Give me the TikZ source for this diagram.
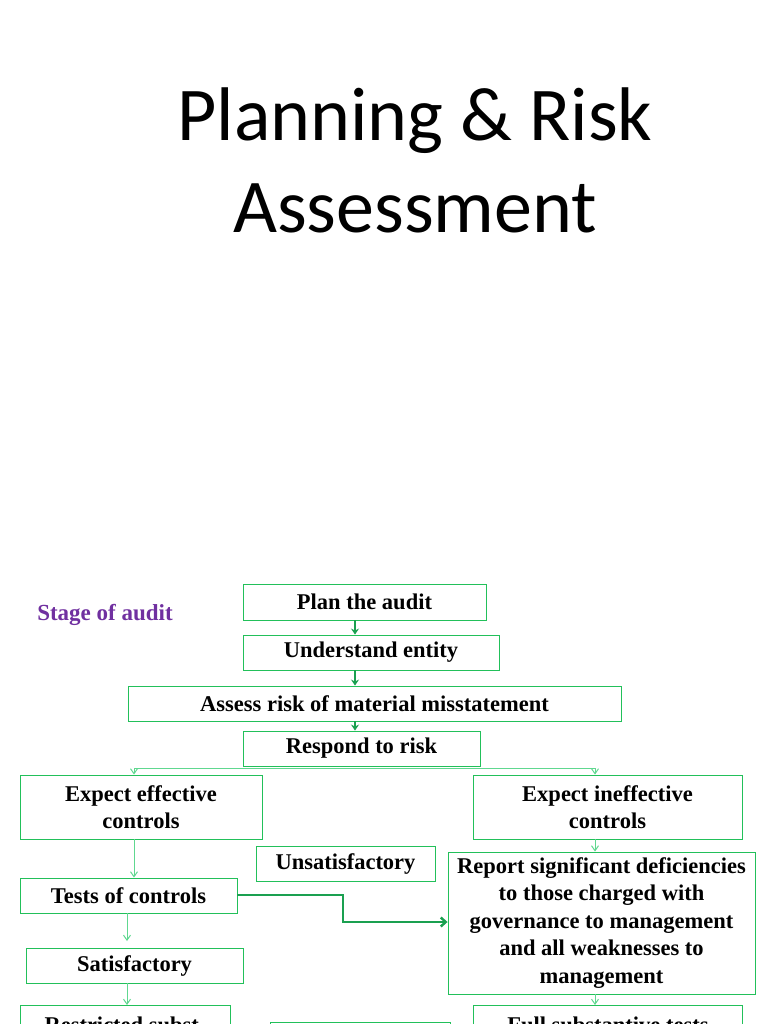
\documentclass[tikz,border=0pt]{standalone}
\usepackage{fontspec}
\setmainfont{Liberation Serif}
\newfontfamily\titlefont{Carlito}
\usetikzlibrary{arrows.meta}
\definecolor{bx}{HTML}{22C05A}
\definecolor{dk}{HTML}{1AA050}
\definecolor{lt}{HTML}{60D890}
\definecolor{purp}{HTML}{7030A0}
\begin{document}
\begin{tikzpicture}[x=1pt,y=-1pt,
  bx/.style={draw=bx,line width=0.9pt,inner sep=0pt,font=\bfseries\fontsize{22.5}{27.5}\selectfont,align=center},
  thick arr/.style={draw=dk,line width=2.6pt,-{Stealth[length=6pt,width=8pt]}},
  thin arr/.style={draw=lt,line width=1pt,-{Straight Barb[length=5pt,width=7pt]}}]
\clip (0,0) rectangle (768,1024);
\fill[white] (0,0) rectangle (768,1024);
\node[font=\titlefont\fontsize{76}{92}\selectfont,align=center] (title) at (415,160) {Planning \& Risk\\Assessment};
\node[text=purp,font=\bfseries\fontsize{23}{26}\selectfont] (stage) at (105,615) {Stage of audit};
\newcommand\bxn[6]{\node[bx,minimum width=#3-#2,minimum height=#5-#4] (#1) at ({(#2+#3)/2},{(#4+#5)/2+1}) {#6};}
\bxn{plan}{243}{486}{583}{619}{Plan the audit}
\bxn{und}{243}{499}{634}{669}{Understand entity}
\bxn{ass}{128}{621}{685}{720}{Assess risk of material misstatement}
\bxn{resp}{243}{480}{730}{765}{Respond to risk}
\bxn{eff}{20}{262}{774}{838}{Expect effective\\controls}
\bxn{ineff}{473}{742}{774}{838}{Expect ineffective\\controls}
\bxn{unsat}{256}{435}{845}{880}{Unsatisfactory}
\bxn{tests}{20}{237}{877}{912}{Tests of controls}
\bxn{satis}{26}{243}{947}{982}{Satisfactory}
\bxn{rep}{448}{755}{851}{993}{Report significant deficiencies\\to those charged with\\governance to management\\and all weaknesses to\\management}
\node[bx,minimum width=210,minimum height=60,anchor=north west] (restr) at (20,1005) {\raisebox{-6pt}{Restricted subst-}\\antive tests};
\node[bx,minimum width=180,minimum height=60,anchor=north west] (mid) at (270,1022) {};
\node[bx,minimum width=269,minimum height=60,anchor=north west] (full) at (473,1005) {\raisebox{-6pt}{Full substantive tests}\\\phantom{x}};
\draw[thick arr] (plan.south -| 355,0) -- (und.north -| 355,0);
\draw[thick arr] (und.south -| 355,0) -- (ass.north -| 355,0);
\draw[thick arr] (ass.south -| 355,0) -- (resp.north -| 355,0);
\draw[draw=lt,line width=1pt] (134,768) -- (595,768);
\draw[thin arr] (134,768) -- (eff.north -| 134,0);
\draw[thin arr] (595,768) -- (ineff.north -| 595,0);
\draw[thin arr] (eff.south -| 134,0) -- (tests.north -| 134,0);
\draw[thin arr] (tests.south -| 127,0) -- (127,941);
\draw[thin arr] (satis.south -| 127,0) -- (restr.north -| 127,0);
\draw[thin arr] (ineff.south -| 595,0) -- (rep.north -| 595,0);
\draw[thin arr] (rep.south -| 595,0) -- (full.north -| 595,0);
\draw[draw=dk,line width=2.4pt,-{Straight Barb[length=5pt,width=9pt]}] (tests.east |- 0,895) -- (343,895) -- (343,922) -- (rep.west |- 0,922);
\end{tikzpicture}
\end{document}
